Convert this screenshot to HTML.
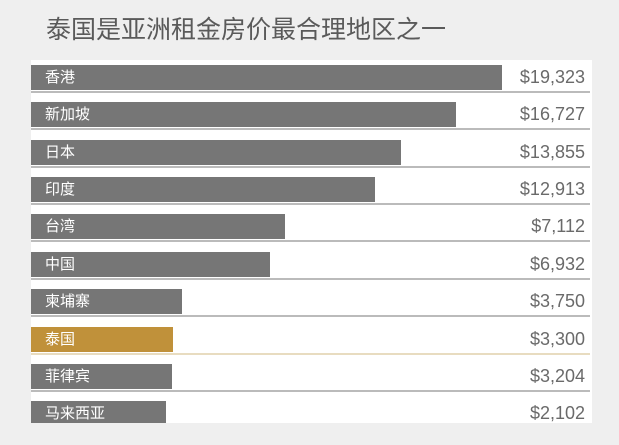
<!DOCTYPE html>
<html><head><meta charset="utf-8"><style>
body{margin:0;width:619px;height:445px;background:#efefef;font-family:"Liberation Sans","Noto Sans CJK SC",sans-serif;position:relative;overflow:hidden}
.t{position:absolute;left:46px;top:10px;font-size:25px;color:#5a5a5a}
.p{position:absolute;left:31px;top:60px;width:561px;height:363px;background:#fff}
.r{position:absolute;left:31px;height:25px}
.b{position:absolute;left:0;top:0;height:25px;background:#767676;color:#fff;font-size:15px;line-height:25px;box-sizing:border-box;padding-left:14px}
.l{position:absolute;left:0;width:559px;top:26px;height:2px;background:#bbb}
.v{position:absolute;right:-554px;top:0;line-height:25px;font-size:18px;color:#6a6a6a;width:200px;text-align:right;font-family:"Liberation Sans Narrow","Liberation Sans",sans-serif}
</style></head><body>
<div class="t">泰国是亚洲租金房价最合理地区之一</div>
<div class="p"></div>
<div class="r" style="top:65px"><div class="l"></div><div class="b" style="width:471px">香港</div><div class="v">$19,323</div></div>
<div class="r" style="top:102px"><div class="l"></div><div class="b" style="width:425px">新加坡</div><div class="v">$16,727</div></div>
<div class="r" style="top:140px"><div class="l"></div><div class="b" style="width:370px">日本</div><div class="v">$13,855</div></div>
<div class="r" style="top:177px"><div class="l"></div><div class="b" style="width:344px">印度</div><div class="v">$12,913</div></div>
<div class="r" style="top:214px"><div class="l"></div><div class="b" style="width:254px">台湾</div><div class="v">$7,112</div></div>
<div class="r" style="top:252px"><div class="l"></div><div class="b" style="width:239px">中国</div><div class="v">$6,932</div></div>
<div class="r" style="top:289px"><div class="l"></div><div class="b" style="width:151px">柬埔寨</div><div class="v">$3,750</div></div>
<div class="r" style="top:327px"><div class="l" style="background:#e8dcc0"></div><div class="b" style="width:142px;background:#c0913a">泰国</div><div class="v">$3,300</div></div>
<div class="r" style="top:364px"><div class="l"></div><div class="b" style="width:141px">菲律宾</div><div class="v">$3,204</div></div>
<div class="r" style="top:401px;height:22px;overflow:visible"><div class="b" style="width:135px;height:22px">马来西亚</div><div class="v">$2,102</div></div>
</body></html>
